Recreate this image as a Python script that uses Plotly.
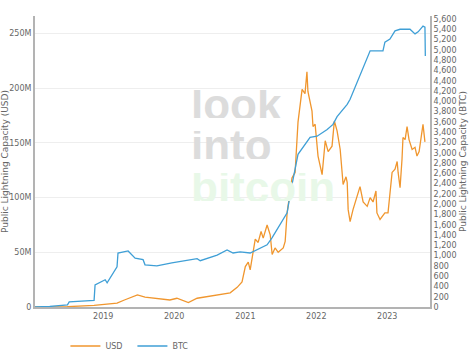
import plotly.graph_objects as go

btc_dates = ["2018-01-15", "2018-04-01", "2018-07-01", "2018-07-10", "2018-11-15", "2018-11-20",
             "2019-01-11", "2019-01-21", "2019-03-13", "2019-03-18", "2019-05-09", "2019-06-14",
             "2019-07-25", "2019-08-04", "2019-10-04", "2019-12-20", "2020-04-28", "2020-05-14",
             "2020-08-09", "2020-09-29", "2020-10-30", "2020-12-05", "2021-01-26", "2021-04-23",
             "2021-05-19", "2021-08-04", "2021-08-24", "2021-09-29", "2021-11-30", "2022-01-05",
             "2022-02-26", "2022-03-28", "2022-04-18", "2022-06-09", "2022-06-24", "2022-07-30",
             "2022-08-25", "2022-10-05", "2022-12-10", "2022-12-20", "2023-01-15", "2023-02-10",
             "2023-03-08", "2023-04-28", "2023-05-24", "2023-06-09", "2023-07-04", "2023-07-14",
             "2023-07-16"]
btc_values = [0, 10, 40, 100, 130, 430,
              530, 470, 780, 1050, 1090, 950,
              920, 820, 800, 860, 940, 900,
              1010, 1110, 1050, 1070, 1050, 1210,
              1350, 1830, 2280, 2970, 3300, 3320,
              3450, 3550, 3700, 3940, 4040, 4370,
              4590, 4980, 4980, 5150, 5210, 5370,
              5400, 5400, 5310, 5350, 5460, 5440,
              4880]

usd_dates = ["2018-01-15", "2018-07-01", "2018-11-15", "2019-03-13", "2019-04-20", "2019-05-15",
             "2019-06-26", "2019-08-04", "2019-10-04", "2019-12-10", "2020-01-15", "2020-03-08",
             "2020-03-14", "2020-04-28", "2020-08-09", "2020-10-15", "2020-11-20", "2020-12-15",
             "2021-01-01", "2021-01-16", "2021-01-26", "2021-02-21", "2021-03-08", "2021-03-23",
             "2021-04-03", "2021-04-23", "2021-05-09", "2021-05-19", "2021-06-03", "2021-06-19",
             "2021-07-15", "2021-07-25", "2021-08-04", "2021-08-19", "2021-08-29", "2021-09-14",
             "2021-09-29", "2021-10-20", "2021-11-04", "2021-11-14", "2021-11-19", "2021-12-10",
             "2021-12-15", "2021-12-26", "2022-01-10", "2022-01-31", "2022-02-16", "2022-03-03",
             "2022-03-23", "2022-04-04", "2022-04-18", "2022-05-04", "2022-05-14", "2022-05-19",
             "2022-06-03", "2022-06-09", "2022-06-14", "2022-06-24", "2022-07-09", "2022-07-30",
             "2022-08-14", "2022-08-30", "2022-09-20", "2022-10-05", "2022-10-20", "2022-11-04",
             "2022-11-09", "2022-11-25", "2022-12-20", "2023-01-05", "2023-01-15", "2023-01-26",
             "2023-02-10", "2023-02-21", "2023-02-26", "2023-03-08", "2023-03-18", "2023-03-23",
             "2023-04-03", "2023-04-13", "2023-04-23", "2023-05-09", "2023-05-24", "2023-06-03",
             "2023-06-14", "2023-06-29", "2023-07-04", "2023-07-14"]
usd_values_m = [0, 0.3, 1.5, 3.5, 6.4, 8,
                11, 9, 8, 6.4, 8, 4.6,
                4, 8, 11, 13, 18, 23,
                37, 41, 34, 62, 59, 69,
                63, 75, 66, 48, 54, 50,
                54, 60, 86, 107, 118, 123,
                169, 199, 195, 215, 197, 179,
                165, 167, 138, 121, 152, 142,
                147, 170, 161, 144, 123, 112,
                119, 114, 89, 78, 89, 101,
                110, 96, 92, 100, 96, 106,
                86, 80, 86, 86, 103, 123,
                126, 133, 123, 109, 135, 155,
                153, 165, 153, 144, 146, 138,
                142, 164, 167, 151]
usd_values = [v * 1e6 for v in usd_values_m]

left_tickvals = [0, 50e6, 100e6, 150e6, 200e6, 250e6]
left_ticktext = ["0", "50M", "100M", "150M", "200M", "250M"]
right_tickvals = list(range(0, 5601, 200))
right_ticktext = [f"{v:,}" for v in right_tickvals]
year_ticks = ["2019-01-01", "2020-01-01", "2021-01-01", "2022-01-01", "2023-01-01"]
year_labels = ["2019", "2020", "2021", "2022", "2023"]

ORANGE = "#f0962e"
BLUE = "#3f9fd6"
FONT = "DejaVu Sans"

fig = go.Figure()
fig.add_trace(go.Scatter(x=usd_dates, y=usd_values, name="USD", mode="lines",
                         line=dict(color=ORANGE, width=1.3), yaxis="y"))
fig.add_trace(go.Scatter(x=btc_dates, y=btc_values, name="BTC", mode="lines",
                         line=dict(color=BLUE, width=1.3), yaxis="y2"))

# watermark
wm = [("look", 0.39, 104, "#dcdcdc"), ("into", 0.39, 145, "#dcdcdc"), ("bitcoin", 0.39, 187, "#e8f8e8")]
annotations = []
for txt, xp, py, col in wm:
    annotations.append(dict(text=f"<b>{txt}</b>", xref="paper", yref="paper",
                            x=xp, y=(307 - py) / 291, xanchor="left", yanchor="middle",
                            height=28, showarrow=False,
                            font=dict(family="Liberation Sans", size=44, color=col)))

fig.update_layout(
    width=474, height=358,
    template="none",
    paper_bgcolor="white", plot_bgcolor="white",
    margin=dict(l=35, r=44, t=16, b=51, autoexpand=False),
    font=dict(family=FONT, size=8, color="#666666"),
    showlegend=True,
    legend=dict(orientation="h", x=0.077, y=-0.134, xanchor="left", yanchor="middle",
                entrywidth=22, entrywidthmode="pixels",
                font=dict(size=8, color="#666666"), bgcolor="rgba(0,0,0,0)"),
    xaxis=dict(type="date", range=["2018-01-15", "2023-08-09"], showgrid=False,
               tickvals=year_ticks, ticktext=year_labels, ticks="",
               showline=True, linecolor="#b3b3b3", linewidth=2, zeroline=False,
               automargin=False, tickfont=dict(size=8, color="#666666")),
    yaxis=dict(range=[0, 266e6], tickvals=left_tickvals, ticktext=left_ticktext,
               showgrid=True, gridcolor="#eeeeee", gridwidth=1, ticks="",
               showline=True, linecolor="#b3b3b3", linewidth=2, zeroline=False,
               automargin=False, tickfont=dict(size=8, color="#666666"),
               title=dict(text="Public Lightning Capacity (USD)", font=dict(size=9, color="#666666"),
                          standoff=4)),
    yaxis2=dict(range=[0, 5658], tickvals=right_tickvals, ticktext=right_ticktext,
                overlaying="y", side="right", showgrid=False, ticks="",
                showline=True, linecolor="#b3b3b3", linewidth=2, zeroline=False,
                automargin=False, tickfont=dict(size=8, color="#666666"),
                title=dict(text="Public Lightning Capacity (BTC)", font=dict(size=9, color="#666666"),
                           standoff=4)),
    annotations=annotations,
)

fig.write_html("out.html", config={"displayModeBar": False},
               post_script="document.body.style.margin='0px';")
